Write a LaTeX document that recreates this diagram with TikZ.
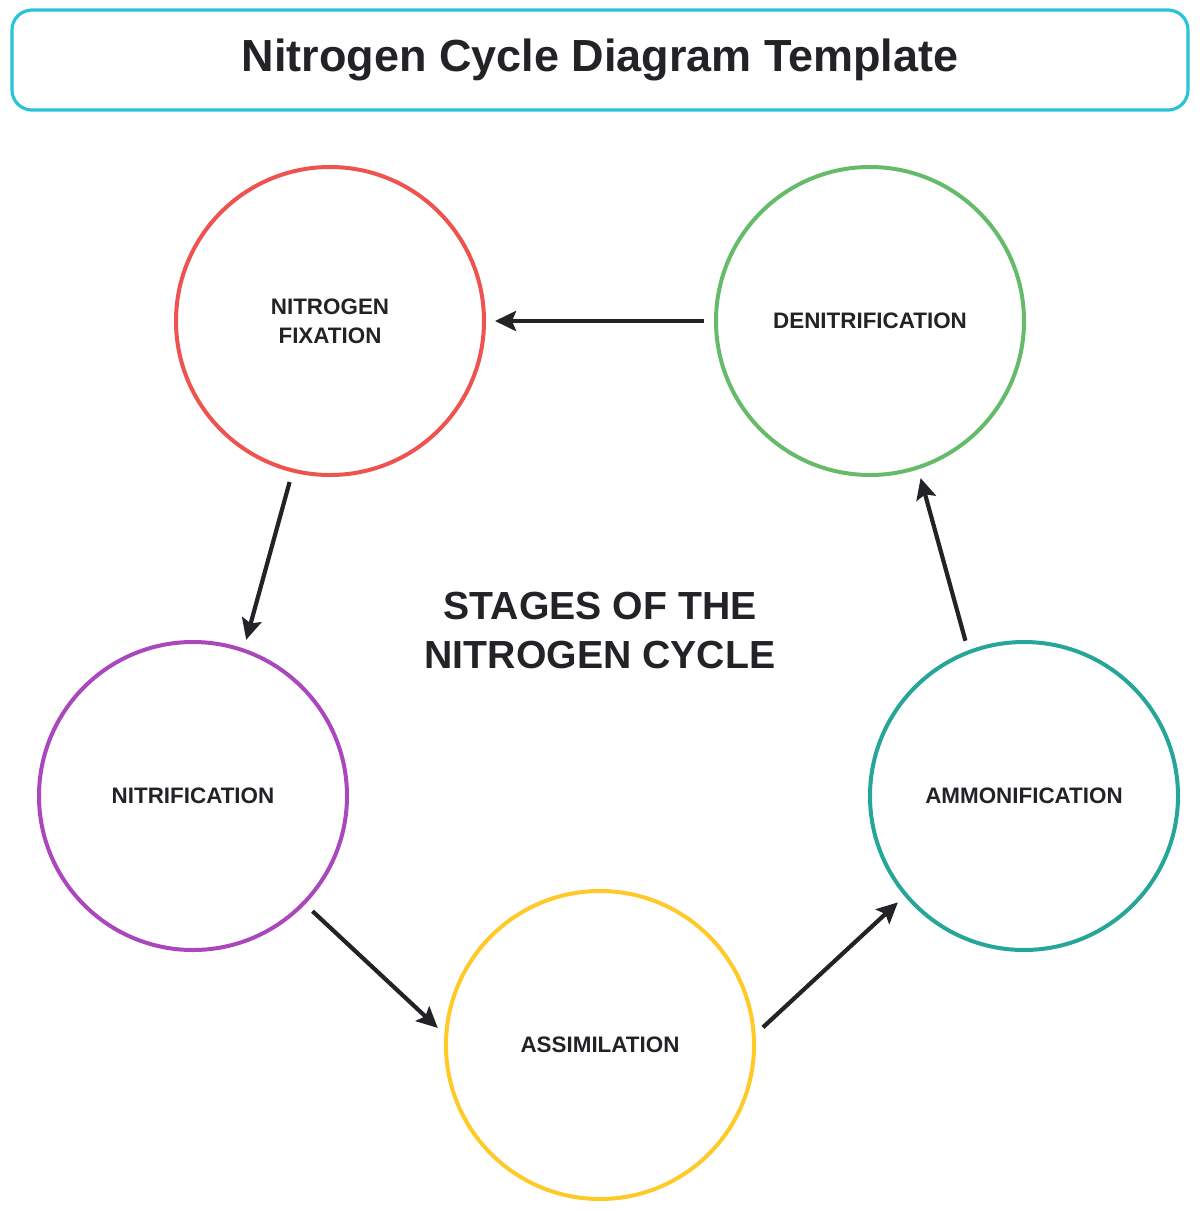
\documentclass[tikz,border=0pt]{standalone}
\usepackage{fontspec}
\setmainfont{Liberation Sans}
\usepackage{tikz}
\usetikzlibrary{arrows.meta,positioning}
\definecolor{ink}{HTML}{222326}
\definecolor{frame}{HTML}{29C4D8}
\definecolor{fix}{HTML}{EF5350}
\definecolor{denit}{HTML}{66BB6A}
\definecolor{nitr}{HTML}{AB47BC}
\definecolor{ammon}{HTML}{26A69A}
\definecolor{assim}{HTML}{FFCA28}

\begin{document}
\begin{tikzpicture}[x=0.5pt, y=-0.5pt, every node/.style={text=ink},
  stage/.style={circle, draw, line width=2pt, minimum size=154pt, inner sep=0pt, align=center,
    font=\fontsize{11.2}{14.5}\selectfont\bfseries},
  flow/.style={draw=ink, line width=2.1pt, -{Stealth[length=10.5pt, width=10pt, inset=2pt]},
    shorten >=4.5pt, shorten <=5pt}]
\useasboundingbox (0,0) rectangle (1200,1211);
\node[draw=frame, line width=1.6pt, rounded corners=10pt, minimum width=588pt, minimum height=50pt,
  font=\fontsize{22.5}{27}\selectfont\bfseries] (title) at (600,60) {Nitrogen Cycle Diagram Template};
\node[stage, draw=fix] (fixation) at (330,321) {NITROGEN\\FIXATION};
\node[stage, draw=denit] (denitrification) at (870,321) {DENITRIFICATION};
\node[stage, draw=nitr] (nitrification) at (193,796) {NITRIFICATION};
\node[stage, draw=ammon] (ammonification) at (1024,796) {AMMONIFICATION};
\node[stage, draw=assim] (assimilation) at (600,1045) {ASSIMILATION};
\node[align=center, font=\fontsize{19.6}{24.5}\selectfont\bfseries] (stages) at (600,630)
  {STAGES OF THE\\NITROGEN CYCLE};
\draw[flow] (denitrification)--(fixation);
\draw[flow] (fixation.256)--(nitrification.71);
\draw[flow] (nitrification.-44)--(assimilation.176);
\draw[flow] (assimilation.4)--(ammonification.220);
\draw[flow] (ammonification.111)--(denitrification.288);
\end{tikzpicture}
\end{document}
